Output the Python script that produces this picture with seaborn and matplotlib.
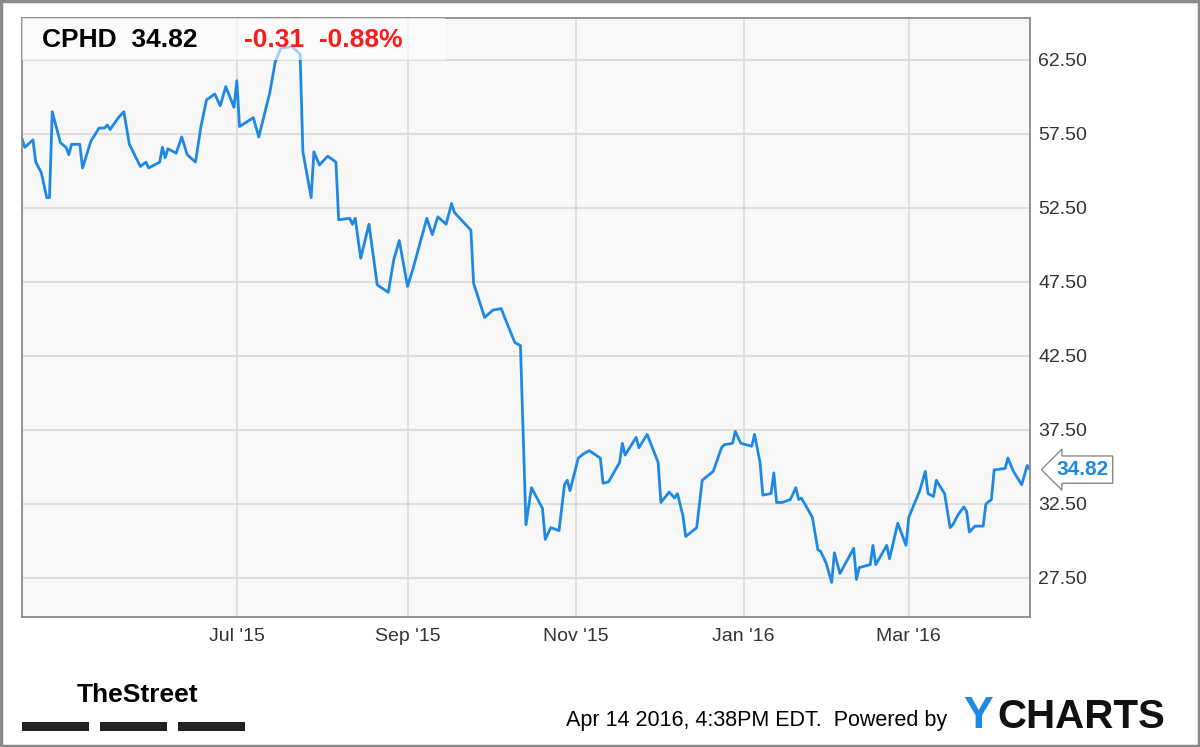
import numpy as np
import pandas as pd
import matplotlib
matplotlib.use("Agg")
import matplotlib.pyplot as plt
import matplotlib.dates as mdates
import seaborn as sns

# days after 2015-04-14, closing price
days = [0, 1, 4, 5, 7, 9, 10, 11, 14, 16, 17, 18, 21, 22, 25, 28, 30, 31, 32, 35,
        37, 39, 43, 45, 46, 50, 51, 52, 53, 56, 58, 60, 63, 65, 67, 70, 72, 74, 77, 78,
        79, 84, 86, 90, 92, 94, 98, 101, 102, 105, 106, 108, 111, 114, 115, 119, 120, 121, 123, 126,
        129, 133, 135, 137, 140, 142, 147, 149, 151, 154, 156, 157, 163, 164, 168, 171, 174, 177, 179, 181,
        183, 185, 189, 190, 192, 195, 197, 198, 199, 202, 204, 206, 210, 211, 213, 217, 218, 219, 223, 224,
        227, 231, 232, 235, 237, 238, 240, 241, 245, 247, 251, 254, 255, 258, 259, 261, 265, 266, 268, 269,
        272, 273, 274, 276, 279, 281, 282, 283, 287, 289, 290, 292, 294, 295, 297, 302, 303, 304, 308, 309,
        310, 314, 315, 318, 321, 322, 326, 328, 329, 331, 332, 335, 337, 338, 340, 342, 343, 344, 346, 349,
        350, 352, 353, 357, 358, 360, 363, 365, 366]
prices = [57.2, 56.6, 57.1, 55.6, 54.9, 53.2, 53.2, 59.0, 56.9, 56.6, 56.1, 56.8, 56.8, 55.2, 57.0, 57.9, 57.9, 58.1, 57.8, 58.6,
          59.0, 56.8, 55.3, 55.6, 55.2, 55.6, 56.6, 55.9, 56.5, 56.2, 57.3, 56.1, 55.6, 58.0, 59.8, 60.2, 59.4, 60.7, 59.3, 61.1,
          58.0, 58.6, 57.3, 60.3, 62.4, 63.3, 63.4, 62.9, 56.3, 53.2, 56.3, 55.4, 56.0, 55.6, 51.7, 51.8, 51.4, 51.8, 49.1, 51.4,
          47.3, 46.8, 49.0, 50.3, 47.2, 48.4, 51.8, 50.7, 51.9, 51.4, 52.8, 52.2, 51.0, 47.4, 45.1, 45.6, 45.7, 44.3, 43.4, 43.2,
          31.1, 33.6, 32.2, 30.1, 30.9, 30.7, 33.8, 34.1, 33.4, 35.6, 35.9, 36.1, 35.6, 33.9, 34.0, 35.3, 36.6, 35.8, 37.0, 36.3,
          37.2, 35.3, 32.6, 33.3, 32.9, 33.2, 31.7, 30.3, 30.9, 34.1, 34.7, 36.3, 36.5, 36.6, 37.4, 36.6, 36.4, 37.2, 35.3, 33.1,
          33.2, 34.6, 32.6, 32.6, 32.8, 33.6, 32.8, 32.9, 31.6, 29.4, 29.3, 28.5, 27.2, 29.2, 27.8, 29.5, 27.4, 28.2, 28.4, 29.7,
          28.4, 29.7, 28.8, 31.2, 29.7, 31.6, 33.4, 34.7, 33.2, 33.0, 34.1, 33.2, 30.9, 31.1, 31.8, 32.3, 32.0, 30.6, 31.0, 31.0,
          32.5, 32.8, 34.8, 34.9, 35.6, 34.7, 33.8, 35.1, 34.82]

tick_dates = ["2015-07-01", "2015-09-01", "2015-11-01", "2016-01-01", "2016-03-01"]
tick_labels = ["Jul '15", "Sep '15", "Nov '15", "Jan '16", "Mar '16"]
y_ticks = [27.5, 32.5, 37.5, 42.5, 47.5, 52.5, 57.5, 62.5]

start = pd.Timestamp("2015-04-14")
df = pd.DataFrame({"date": start + pd.to_timedelta(days, unit="D"), "price": prices})

sns.set_style("white")
plt.rcParams['font.family'] = ['Liberation Sans', 'DejaVu Sans']

fig = plt.figure(figsize=(12, 7.47), dpi=100)
fig.patch.set_facecolor("white")
# outer gray frame
fig.add_artist(plt.Rectangle((0.001, 0.001), 0.998, 0.997, transform=fig.transFigure,
                             fill=False, edgecolor="#8a8a8a", linewidth=2.5))

ax = fig.add_axes([0.0183, 0.174, 0.8400, 0.802])
ax.set_facecolor("#f7f7f7")
sns.lineplot(data=df, x="date", y="price", ax=ax, color="#1e88e5", linewidth=2)

ax.set_xlim(start, start + pd.Timedelta(days=366))
ax.set_ylim(24.86, 65.34)
ax.set_xticks(pd.to_datetime(tick_dates))
ax.set_xticklabels(tick_labels)
ax.set_yticks(y_ticks)
ax.set_yticklabels([f"{v:.2f}" for v in y_ticks])
ax.yaxis.tick_right()
ax.tick_params(axis="both", length=0, labelsize=14, colors="#333333", pad=8)
ax.tick_params(axis="y", pad=6)
ax.set_xlabel("")
ax.set_ylabel("")
ax.grid(True, color="#dcdcdc", linewidth=1.3)
for s in ax.spines.values():
    s.set_edgecolor("#8a8a8a")
    s.set_linewidth(1.3)

# header box
ax.add_patch(plt.Rectangle((0.0, 0.93), 0.42, 0.07, transform=ax.transAxes,
                           facecolor="white", alpha=0.6, edgecolor="none", zorder=3))
ax.text(0.02, 0.963, "CPHD  34.82", transform=ax.transAxes, fontsize=19, fontweight="bold",
        color="black", va="center", zorder=4)
ax.text(0.220, 0.963, "-0.31  -0.88%", transform=ax.transAxes, fontsize=19, fontweight="bold",
        color="#ff1a1a", va="center", zorder=4)

# last value flag
ax.annotate("34.82", xy=(1.0, prices[-1]), xycoords=("axes fraction", "data"),
            xytext=(1.052, prices[-1]), textcoords=("axes fraction", "data"),
            fontsize=15, fontweight="bold", color="#1e88e5", va="center", ha="center",
            bbox=dict(boxstyle="larrow,pad=0.2", facecolor="white", edgecolor="#888888"),
            annotation_clip=False)

# footer
fig.text(0.064, 0.06, "TheStreet", fontsize=19, fontweight="bold", color="black",
         fontstretch="condensed", ha="left")
for x0 in [0.018, 0.083, 0.148]:
    fig.add_artist(plt.Rectangle((x0, 0.022), 0.056, 0.011, transform=fig.transFigure,
                                 facecolor="#222222", edgecolor="none"))
fig.text(0.472, 0.028, "Apr 14 2016, 4:38PM EDT.  Powered by", fontsize=15.5, color="black", ha="left")
fig.text(0.803, 0.026, "Y", fontsize=32, fontweight="bold", color="#1e88e5", ha="left")
fig.text(0.831, 0.026, "CHARTS", fontsize=29, fontweight="bold", color="#111111", ha="left")

fig.savefig("out.png", dpi=100, facecolor="white")
